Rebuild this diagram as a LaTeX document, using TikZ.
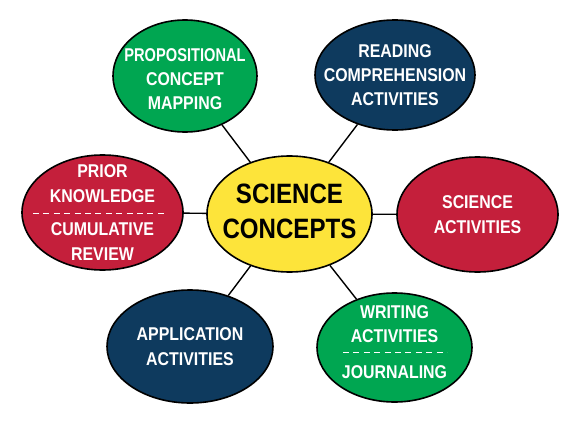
\documentclass[tikz,border=0pt]{standalone}
\usepackage{fontspec}
\usepackage{graphicx}
\setmainfont{Liberation Sans}[FakeStretch=0.86]
\usetikzlibrary{shapes.geometric,backgrounds}
\definecolor{cgreen}{RGB}{0,166,81}
\definecolor{cnavy}{RGB}{14,58,94}
\definecolor{cred}{RGB}{196,31,59}
\definecolor{cyellow}{RGB}{253,228,58}
\begin{document}
\begin{tikzpicture}[x=1pt,y=-1pt,
  bubble/.style={ellipse, draw=black, line width=1.6pt, inner sep=-60pt, align=center,
    text=white, font=\bfseries\fontsize{18.5}{24.3}\selectfont},
  core/.style={bubble, fill=cyellow, text=black, font=\bfseries\fontsize{28}{35}\selectfont},
  link/.style={draw=black, line width=1.4pt},
  sep/.style={draw=white, line width=1.3pt, dash pattern=on 6pt off 4.4pt}]
\useasboundingbox (0,0) rectangle (580,425);
\node[core, minimum width=165pt, minimum height=116pt] (c) at (289.5,214) {SCIENCE\\CONCEPTS\rule[-6.5pt]{0pt}{0pt}};
\node[bubble, fill=cgreen, minimum width=144pt, minimum height=112pt] (tl) at (185,76) {\rule{0pt}{19.5pt}\scalebox{0.92}[1]{PROPOSITIONAL}\\CONCEPT\\MAPPING};
\node[bubble, fill=cnavy, minimum width=160pt, minimum height=110pt] (tr) at (395,75) {READING\\COMPREHENSION\\ACTIVITIES};
\node[bubble, fill=cred, minimum width=161pt, minimum height=115pt] (l) at (102.5,212.5) {PRIOR\\KNOWLEDGE\\[9.4pt]CUMULATIVE\\REVIEW};
\node[bubble, fill=cred, minimum width=161pt, minimum height=115pt] (r) at (477.5,214.5) {SCIENCE\\ACTIVITIES};
\node[bubble, fill=cnavy, minimum width=166pt, minimum height=113pt] (bl) at (190,346.5) {APPLICATION\\ACTIVITIES};
\node[bubble, fill=cgreen, minimum width=155pt, minimum height=109pt] (br) at (394.5,347.5) {WRITING\\ACTIVITIES\\[11.5pt]JOURNALING\rule[-11pt]{0pt}{0pt}};
\coordinate (ls) at ([xshift=-69.5pt,yshift=-1pt]l.center);
\coordinate (le) at ([xshift=65.5pt,yshift=-1pt]l.center);
\draw[sep] (ls) -- (le);
\coordinate (bs) at ([xshift=-51.5pt,yshift=-4.8pt]br.center);
\coordinate (be) at ([xshift=52.5pt,yshift=-4.8pt]br.center);
\draw[sep] (bs) -- (be);
\begin{scope}[on background layer]
\draw[link] (c) -- (tl);
\draw[link] (c) -- (tr);
\draw[link] (c) -- (l);
\draw[link] (c) -- (r);
\draw[link] (c) -- (bl);
\draw[link] (c) -- (br);
\end{scope}
\end{tikzpicture}
\end{document}
